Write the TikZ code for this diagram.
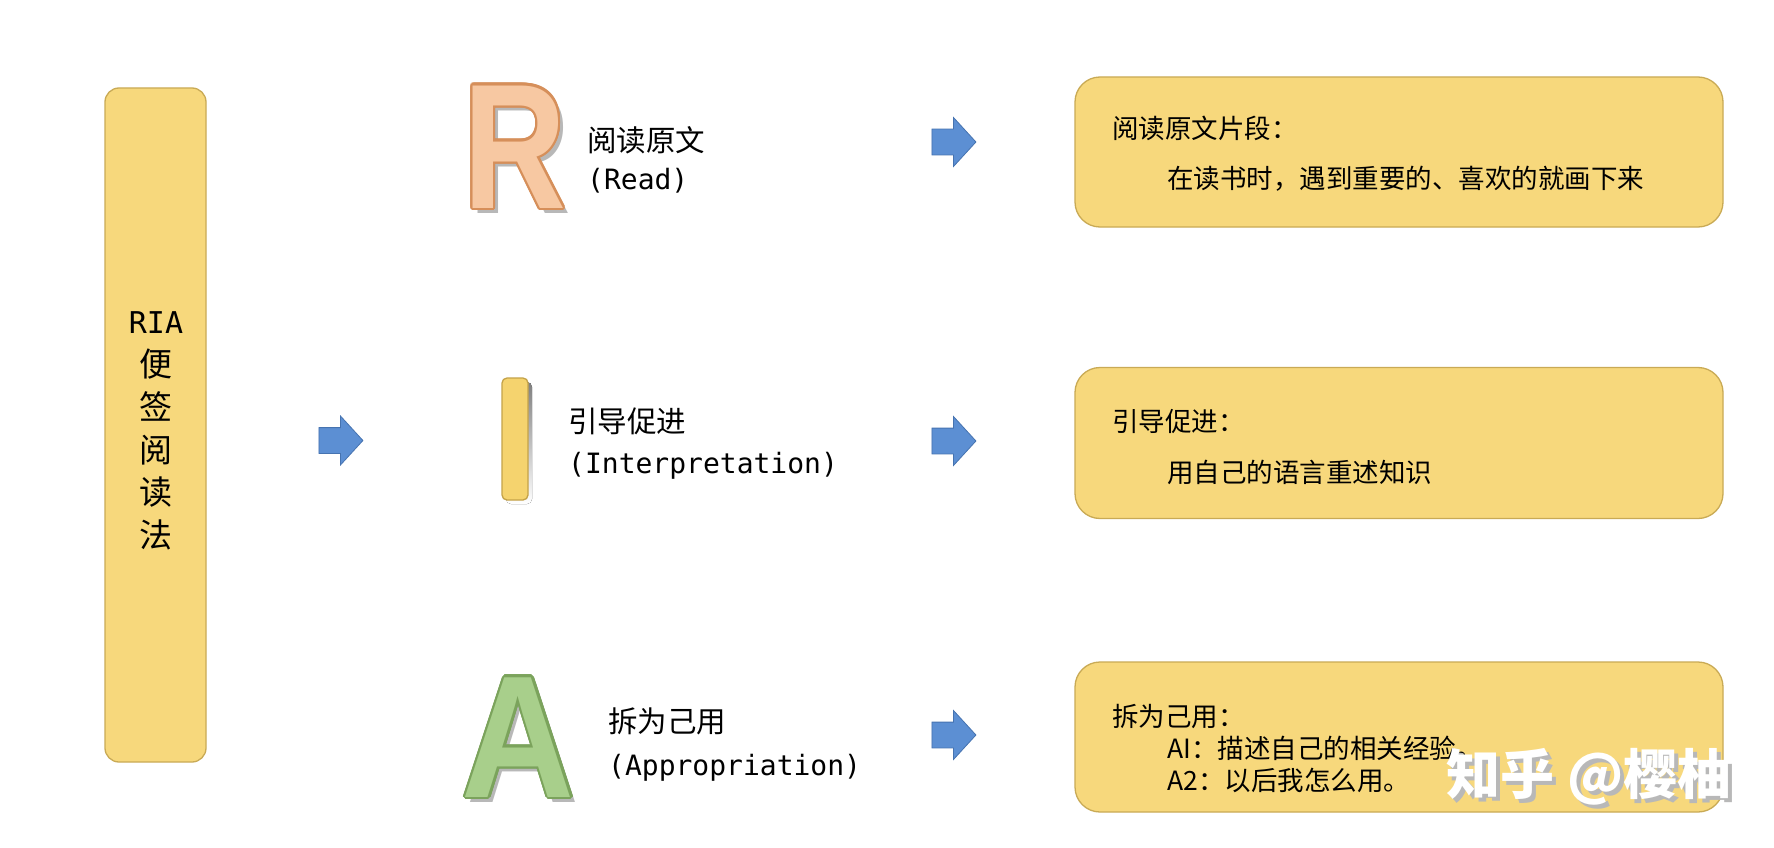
\documentclass[tikz,border=0pt]{standalone}
\usepackage{fontspec}
\setmainfont{Noto Sans CJK SC}
\newfontfamily\monof{DejaVu Sans Mono}
\newfontfamily\letterf{Liberation Sans Bold}
\usetikzlibrary{shapes.arrows,calc}
\definecolor{boxfill}{HTML}{F7D87C}
\definecolor{boxedge}{HTML}{C9AA55}
\definecolor{peach}{HTML}{F7C8A2}
\definecolor{peachedge}{HTML}{D68F5A}
\definecolor{leaf}{HTML}{A8CF8B}
\definecolor{leafedge}{HTML}{7BA35C}
\definecolor{barfill}{HTML}{F5D36E}
\definecolor{baredge}{HTML}{C4A248}
\definecolor{arrowfill}{HTML}{5C8FD3}
\definecolor{arrowedge}{HTML}{4673B0}
\definecolor{shade}{HTML}{B8B8B8}
\tikzset{
  ybox/.style={draw=boxedge, fill=boxfill, line width=1.3, inner sep=0},
  barrow/.style={single arrow, draw=arrowedge, fill=arrowfill, line width=0.8,
    inner xsep=0, inner ysep=12.5, single arrow head extend=11.5,
    single arrow tip angle=95, minimum height=44},
  cjklbl/.style={font=\fontsize{29.5}{34}\selectfont, inner sep=0, anchor=west},
  monolbl/.style={font=\monof\fontsize{28}{34}\selectfont, inner sep=0, anchor=west},
  boxtxt/.style={font=\fontsize{26.5}{31}\selectfont, inner sep=0, anchor=west},
  bigl/.style={inner sep=0, anchor=base},
}
\newcommand{\bigletter}[7]{% name, position, letter, fill, edge, size, xscale
  \node[bigl, text=shade] at ($(#2)+(5,5)$) {\letterf\fontsize{#6}{#6}\selectfont\scalebox{#7}[1]{#3}};
  \foreach \ang in {0,22.5,...,337.5}
    \node[bigl, text=#5] at ($(#2)+(\ang:2.4)$) {\letterf\fontsize{#6}{#6}\selectfont\scalebox{#7}[1]{#3}};
  \node[bigl, text=#4] (#1) at (#2) {\letterf\fontsize{#6}{#6}\selectfont\scalebox{#7}[1]{#3}};
}
\begin{document}
\begin{tikzpicture}[x=1pt,y=-1pt]
\useasboundingbox (0,0) rectangle (1774,848);
\fill[white] (0,0) rectangle (1774,848);

% left main box
\node[ybox, rounded corners=14, minimum width=101, minimum height=674] (main) at (155.5,425) {};
\node[align=center, inner sep=0, font=\fontsize{33}{42.8}\selectfont] (maintxt) at (156,431)
  {{\monof\fontsize{30}{42.8}\selectfont RIA}\\便\\签\\阅\\读\\法};

% left arrow
\node[barrow] (a0) at (335,440.5) {};

% R row
\coordinate (Rpos) at (515,208);
\bigletter{R}{Rpos}{R}{peach}{peachedge}{178}{0.8}
\node[cjklbl] (rt1) at (587,140) {阅读原文};
\node[monolbl] (rt2) at (587,181) {(Read)};
\node[barrow] (a1) at (948,142) {};

% I row
\fill[shade, rounded corners=5] (506,382) rectangle (532,504);
\node[draw=baredge, fill=barfill, line width=1.3, rounded corners=5, inner sep=0,
  minimum width=26, minimum height=122] (I) at (515,439) {};
\node[cjklbl] (it1) at (568,421) {引导促进};
\node[monolbl] (it2) at (568,466) {(Interpretation)};
\node[barrow] (a2) at (948,441) {};

% A row
\coordinate (Apos) at (518.5,797);
\bigletter{A}{Apos}{A}{leaf}{leafedge}{174}{0.9}
\node[cjklbl] (at1) at (608,721) {拆为己用};
\node[monolbl] (at2) at (608,768) {(Appropriation)};
\node[barrow] (a3) at (948,735) {};

% right boxes
\node[ybox, rounded corners=25, minimum width=648, minimum height=150] (b1) at (1399,152) {};
\node[boxtxt] (b1l1) at (1112,128) {阅读原文片段：};
\node[boxtxt] (b1l2) at (1167,179) {在读书时，遇到重要的、喜欢的就画下来};

\node[ybox, rounded corners=25, minimum width=648, minimum height=151] (b2) at (1399,443) {};
\node[boxtxt] (b2l1) at (1112,421) {引导促进：};
\node[boxtxt] (b2l2) at (1167,472) {用自己的语言重述知识};

\node[ybox, rounded corners=25, minimum width=648, minimum height=150] (b3) at (1399,737) {};
\node[boxtxt] (b3l1) at (1112,717) {拆为己用：};
\node[boxtxt] (b3l2) at (1167,748) {AI：描述自己的相关经验。};
\node[boxtxt] (b3l3) at (1167,780) {A2：以后我怎么用。};

% watermark
\node[inner sep=0, text=shade, font=\bfseries\fontsize{54}{54}\selectfont] (wms) at (1593,781) {知乎 @樱柚};
\node[inner sep=0, text=white, font=\bfseries\fontsize{54}{54}\selectfont] (wm) at (1589,777) {知乎 @樱柚};
\end{tikzpicture}
\end{document}
